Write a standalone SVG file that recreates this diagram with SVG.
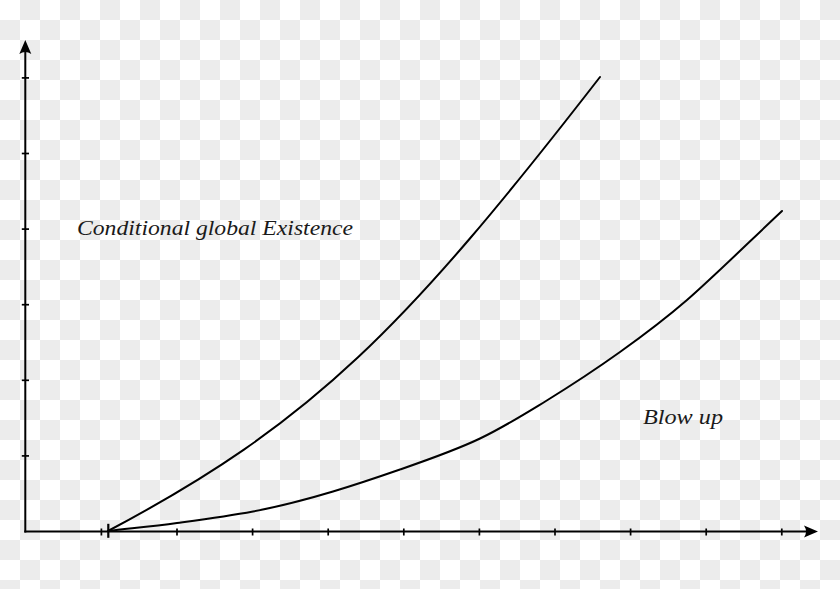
<svg xmlns="http://www.w3.org/2000/svg" width="840" height="589" viewBox="0 0 840 589">
  <defs>
    <pattern id="checker" x="0" y="0" width="40" height="40" patternUnits="userSpaceOnUse">
      <rect x="0" y="0" width="40" height="40" fill="#ffffff"/>
      <rect x="20" y="0" width="20" height="20" fill="#ececec"/>
      <rect x="0" y="20" width="20" height="20" fill="#ececec"/>
    </pattern>
    <marker id="arrow" markerUnits="userSpaceOnUse" viewBox="-12 -8 20 16" markerWidth="20" markerHeight="16" refX="0" refY="0" orient="auto">
      <path d="M4,0 L-10,-6 Q-6,0 -10,6 Z" fill="#000"/>
    </marker>
    <style>
      .axis { stroke: #000; stroke-width: 2; fill: none; }
      .tick { stroke: #000; stroke-width: 1.7; }
      .curve { stroke: #000; stroke-width: 2; fill: none; stroke-linecap: round; stroke-linejoin: round; }
      .label { font-family: "Liberation Serif", "DejaVu Serif", serif; font-style: italic; font-size: 22px; fill: #1a1a1a; }
    </style>
  </defs>
  <rect x="0" y="0" width="840" height="589" fill="url(#checker)"/>

  <g id="axes">
    <line class="axis" x1="24.3" y1="531.5" x2="814" y2="531.5" marker-end="url(#arrow)"/>
    <line class="axis" x1="25.3" y1="532.5" x2="25.3" y2="44" marker-end="url(#arrow)"/>
  </g>

  <g id="ticks">
    <line class="tick" x1="101.4" y1="528.5" x2="101.4" y2="535.5"/>
    <line class="tick" x1="177" y1="528.5" x2="177" y2="535.5"/>
    <line class="tick" x1="252.6" y1="528.5" x2="252.6" y2="535.5"/>
    <line class="tick" x1="328.2" y1="528.5" x2="328.2" y2="535.5"/>
    <line class="tick" x1="403.8" y1="528.5" x2="403.8" y2="535.5"/>
    <line class="tick" x1="479.4" y1="528.5" x2="479.4" y2="535.5"/>
    <line class="tick" x1="555" y1="528.5" x2="555" y2="535.5"/>
    <line class="tick" x1="630.6" y1="528.5" x2="630.6" y2="535.5"/>
    <line class="tick" x1="706.2" y1="528.5" x2="706.2" y2="535.5"/>
    <line class="tick" x1="781.8" y1="528.5" x2="781.8" y2="535.5"/>
    <line class="tick" x1="21.8" y1="455.9" x2="29" y2="455.9"/>
    <line class="tick" x1="21.8" y1="380.3" x2="29" y2="380.3"/>
    <line class="tick" x1="21.8" y1="304.7" x2="29" y2="304.7"/>
    <line class="tick" x1="21.8" y1="229.1" x2="29" y2="229.1"/>
    <line class="tick" x1="21.8" y1="153.5" x2="29" y2="153.5"/>
    <line class="tick" x1="21.8" y1="77.9" x2="29" y2="77.9"/>
    <line id="origin-mark" stroke="#000" stroke-width="2.2" x1="108.3" y1="523.8" x2="108.3" y2="537.8"/>
  </g>

  <g id="connectors">
    <path id="curve-upper" class="curve" d="M108,531 C313,422.4 405,328.5 600,77"/>
    <path id="curve-lower" class="curve" d="M108,531 C131,528.3 152.8,526.3 177,523 C201.2,519.7 227,516.3 253,511.5 C279,506.6 308,499 333,491.5 C358,484 377,477.5 400,469.5 C426,460.5 455,450.5 480,438.5 C504,427 523,415 546,401 C569.3,386.6 596.5,368.8 620,352 C643.5,335.2 661,322.5 687,300 C714,276.5 750.3,240.7 782,211"/>
  </g>

  <g id="label-existence">
    <text class="label" x="77" y="234.5" textLength="276" lengthAdjust="spacingAndGlyphs">Conditional global Existence</text>
  </g>
  <g id="label-blowup">
    <text class="label" x="643" y="423.5" textLength="80" lengthAdjust="spacingAndGlyphs">Blow up</text>
  </g>
</svg>
